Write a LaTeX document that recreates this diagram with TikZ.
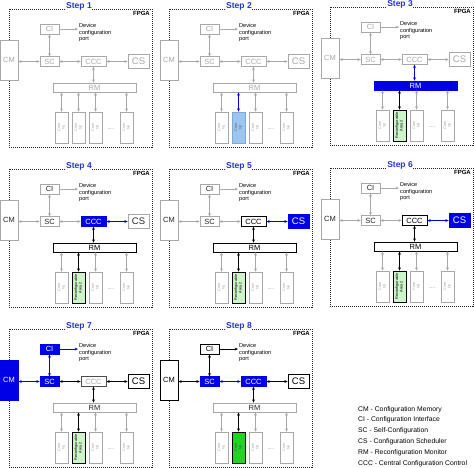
\documentclass[tikz,border=0pt]{standalone}
\usepackage{fontspec}
\setmainfont{Liberation Sans}
\usepackage{graphicx}
\usetikzlibrary{arrows.meta}
\definecolor{lg}{HTML}{A8A8A8}
\definecolor{bl}{HTML}{0000E6}
\definecolor{ttl}{HTML}{2233DD}
\definecolor{lb}{HTML}{9CC6F2}
\definecolor{lgr}{HTML}{CCF5C8}
\definecolor{bgr}{HTML}{22D322}
\newcommand\rotlab[1]{\rotatebox{90}{\begin{tabular}{@{}c@{}}#1\end{tabular}}}
\tikzset{
 frame/.style={draw=black!85, line width=0.75pt, dash pattern=on 1pt off 1pt},
 title/.style={font=\fontsize{8.5}{9}\selectfont\bfseries, text=ttl, fill=white, inner sep=0.5pt},
 fpga/.style={font=\fontsize{6}{7}\selectfont\bfseries, anchor=north east, inner sep=0pt},
 box/.style={draw, fill=white, inner sep=0pt, line width=0.6pt},
 lab/.style={font=\fontsize{7.5}{8}\selectfont},
 big/.style={font=\fontsize{9.5}{10}\selectfont},
 port/.style={font=\fontsize{5.6}{6.6}\selectfont, align=left, inner sep=1pt},
 core/.style={minimum width=13pt, minimum height=31pt, font=\fontsize{3.8}{4.3}\selectfont},
 legend/.style={font=\fontsize{6.8}{10.8}\selectfont, align=left, inner sep=0pt},
 gb/.style={draw=lg, text=lg},
 gdb/.style={draw=lg, text=black!85},
 kb/.style={draw=black, text=black},
 bb/.style={draw=bl, fill=bl, text=white},
 area/.style={draw=black, fill=lgr, text=black},
 dbl/.style={{Stealth[length=3.4pt,width=2.8pt]}-{Stealth[length=3.4pt,width=2.8pt]}},
 one/.style={-{Stealth[length=3.4pt,width=2.8pt]}},
 ga/.style={draw=lg, line width=0.5pt},
 ka/.style={draw=black, line width=0.8pt},
 ba/.style={draw=bl, line width=0.8pt},
 sCI/.style=gb, sSC/.style=gb, sCCC/.style=gb, sCS/.style=gb, sCM/.style=gb, sRM/.style=gb,
 sC1/.style=gb, sC2/.style=gb, sC3/.style=gb, sC4/.style=gb,
 aPort/.style=ga, aCISC/.style=ga, aCMSC/.style=ga, aSCCCC/.style=ga, aCCCCS/.style=ga,
 aCCCRM/.style=ga, aR1/.style=ga, aR2/.style=ga, aR3/.style=ga, aR4/.style=ga,
}
\newcommand\panel[5]{%
\begin{scope}[shift={(#1,#2)},#5]
\draw[frame] (0,0) rectangle (143,138);
\node[title] (p#3t) at (70,-3) {Step #3};
\node[fpga] (p#3f) at (141,2.5) {FPGA};
\node[box,lab,sCI,minimum width=19pt,minimum height=10pt] (p#3ci) at (40.5,20) {CI};
\node[port,anchor=north west] (p#3p) at (69,13.5) {Device\\configuration\\port};
\node[box,lab,sSC,minimum width=19pt,minimum height=9.5pt] (p#3sc) at (40.5,52.5) {SC};
\node[box,lab,sCCC,minimum width=25pt,minimum height=9.5pt] (p#3ccc) at (84.5,52.5) {CCC};
\node[box,big,sCS,minimum width=21pt,minimum height=14pt] (p#3cs) at (129.5,52.5) {CS};
\node[box,lab,sCM,minimum width=18pt,minimum height=40pt] (p#3cm) at (0,51) {CM};
\node[box,lab,sRM,minimum width=83pt,minimum height=9pt] (p#3rm) at (85.5,78.5) {RM};
\node[box,core,sC1] (p#3c1) at (52.5,118.5) {\rotlab{Core\\N1}};
\node[box,core,sC2] (p#3c2) at (69.5,118.5) {#4};
\node[box,core,sC3] (p#3c3) at (86.5,118.5) {\rotlab{Core\\N3}};
\node[box,core,sC4] (p#3c4) at (117.5,118.5) {\rotlab{Core\\Nn}};
\node[lab,text=lg,inner sep=0pt] (p#3d) at (102,120) {...};
\draw[one,aPort] (p#3ci.east) -- (p#3ci.east -| p#3p.west);
\draw[dbl,aCISC] (p#3ci.south) -- (p#3sc.north);
\draw[dbl,aCMSC] (p#3cm.east |- p#3sc) -- (p#3sc.west);
\draw[dbl,aSCCCC] (p#3sc.east) -- (p#3ccc.west);
\draw[dbl,aCCCCS] (p#3ccc.east) -- (p#3cs.west);
\draw[dbl,aCCCRM] (p#3ccc.south) -- (p#3ccc.south |- p#3rm.north);
\draw[dbl,aR1] (p#3c1.north |- p#3rm.south) -- (p#3c1.north);
\draw[dbl,aR2] (p#3c2.north |- p#3rm.south) -- (p#3c2.north);
\draw[dbl,aR3] (p#3c3.north |- p#3rm.south) -- (p#3c3.north);
\draw[dbl,aR4] (p#3c4.north |- p#3rm.south) -- (p#3c4.north);
\end{scope}}
\begin{document}
\begin{tikzpicture}[x=1pt,y=-1pt]
\useasboundingbox (0,0) rectangle (474,467);
\panel{9}{9}{1}{\rotlab{Core\\N2}}{}
\panel{169}{9}{2}{\rotlab{Core\\N2}}{sC2/.style={draw=lb!85!black, fill=lb, text=black!60}, aR2/.style=ba}
\panel{330}{7}{3}{\rotlab{Reconfigurable\\Area 2}}{sRM/.style=bb, aCCCRM/.style=ba, sC2/.style=area, aR2/.style=ka}
\panel{9}{169}{4}{\rotlab{Reconfigurable\\Area 2}}{sCI/.style=gdb, sSC/.style=gdb, sCM/.style=gdb, sCS/.style=gdb, sCCC/.style=bb, sRM/.style=kb, aCCCCS/.style=ba, aCCCRM/.style=ka, sC2/.style=area, aR2/.style=ka}
\panel{169}{169}{5}{\rotlab{Reconfigurable\\Area 2}}{sCI/.style=gdb, sSC/.style=gdb, sCM/.style=gdb, sCCC/.style=kb, sCS/.style=bb, sRM/.style=kb, aCCCCS/.style=ba, aCCCRM/.style=ka, sC2/.style=area, aR2/.style=ka}
\panel{330}{168}{6}{\rotlab{Reconfigurable\\Area 2}}{sCI/.style=gdb, sSC/.style=gdb, sCM/.style=gdb, sCCC/.style=kb, sCS/.style=bb, sRM/.style=kb, aCCCCS/.style=ba, aCCCRM/.style=ka, sC2/.style=area, aR2/.style=ka}
\panel{9}{329}{7}{\rotlab{Reconfigurable\\Area 2}}{sCM/.style=bb, sCI/.style=bb, sSC/.style=bb, sCCC/.style={draw=black!70, text=lg}, sCS/.style=kb, sRM/.style=gdb, aPort/.style=ba, aCISC/.style=ba, aCMSC/.style=ba, aSCCCC/.style=ka, aCCCCS/.style=ka, aCCCRM/.style=ka, sC2/.style=area, aR2/.style=ka}
\panel{169}{329}{8}{\rotlab{Core\\N2}}{sCI/.style=kb, sCM/.style=kb, sSC/.style=bb, sCCC/.style=bb, sCS/.style=kb, sRM/.style=gdb, aPort/.style=ka, aCISC/.style=ka, aCMSC/.style=ka, aSCCCC/.style=ba, aCCCCS/.style=ka, aCCCRM/.style=ka, sC2/.style={draw=black, fill=bgr, text=black!70}, aR2/.style=ka}
\node[legend, anchor=north west] (leg) at (358,406) {CM - Configuration Memory\\CI - Configuration Interface\\SC - Self-Configuration\\CS - Configuration Scheduler\\RM - Reconfiguration Monitor\\CCC - Central Configuration Control};
\end{tikzpicture}
\end{document}
